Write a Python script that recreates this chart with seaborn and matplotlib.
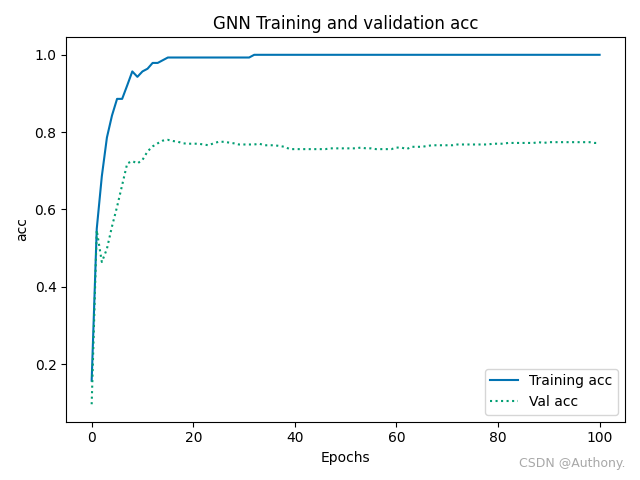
import matplotlib
matplotlib.use("Agg")
import matplotlib.pyplot as plt
import seaborn as sns

# accuracy per epoch
epochs = list(range(101))
train_acc = [0.157, 0.55, 0.686, 0.786, 0.843, 0.886, 0.886, 0.921, 0.957, 0.943,
             0.957, 0.964, 0.979, 0.979, 0.986] + [0.993] * 17 + [1.0] * 69
val_acc = ([0.096, 0.546, 0.464, 0.498, 0.556, 0.607, 0.663, 0.719, 0.725, 0.719,
            0.728, 0.750, 0.763, 0.771, 0.778, 0.780, 0.777, 0.775, 0.771, 0.770,
            0.770, 0.770, 0.768, 0.766, 0.771, 0.775, 0.775, 0.773, 0.771, 0.768,
            0.768, 0.768, 0.768, 0.770, 0.766, 0.766, 0.766, 0.764, 0.762]
           + [0.756] * 8 + [0.758] * 6 + [0.760, 0.758, 0.758] + [0.756] * 4
           + [0.760, 0.760, 0.756, 0.762, 0.762, 0.762, 0.764] + [0.766] * 5
           + [0.768] * 7 + [0.770] * 3 + [0.772] * 6 + [0.774, 0.772]
           + [0.774] * 9 + [0.772, 0.772])

pal = sns.color_palette("colorblind")

fig, ax = plt.subplots(figsize=(6.4, 4.8), dpi=100)
sns.lineplot(x=epochs, y=train_acc, ax=ax, color=pal[0], label="Training acc")
sns.lineplot(x=epochs, y=val_acc, ax=ax, color=pal[2], linestyle=":", label="Val acc")
ax.set_title("GNN Training and validation acc")
ax.set_xlabel("Epochs")
ax.set_ylabel("acc")
ax.legend(loc="lower right")
fig.tight_layout()
fig.text(0.978, 0.035, "CSDN @Authony.", ha="right", va="center",
         color="#a8a8a8", fontsize=9)
fig.savefig("out.png")
